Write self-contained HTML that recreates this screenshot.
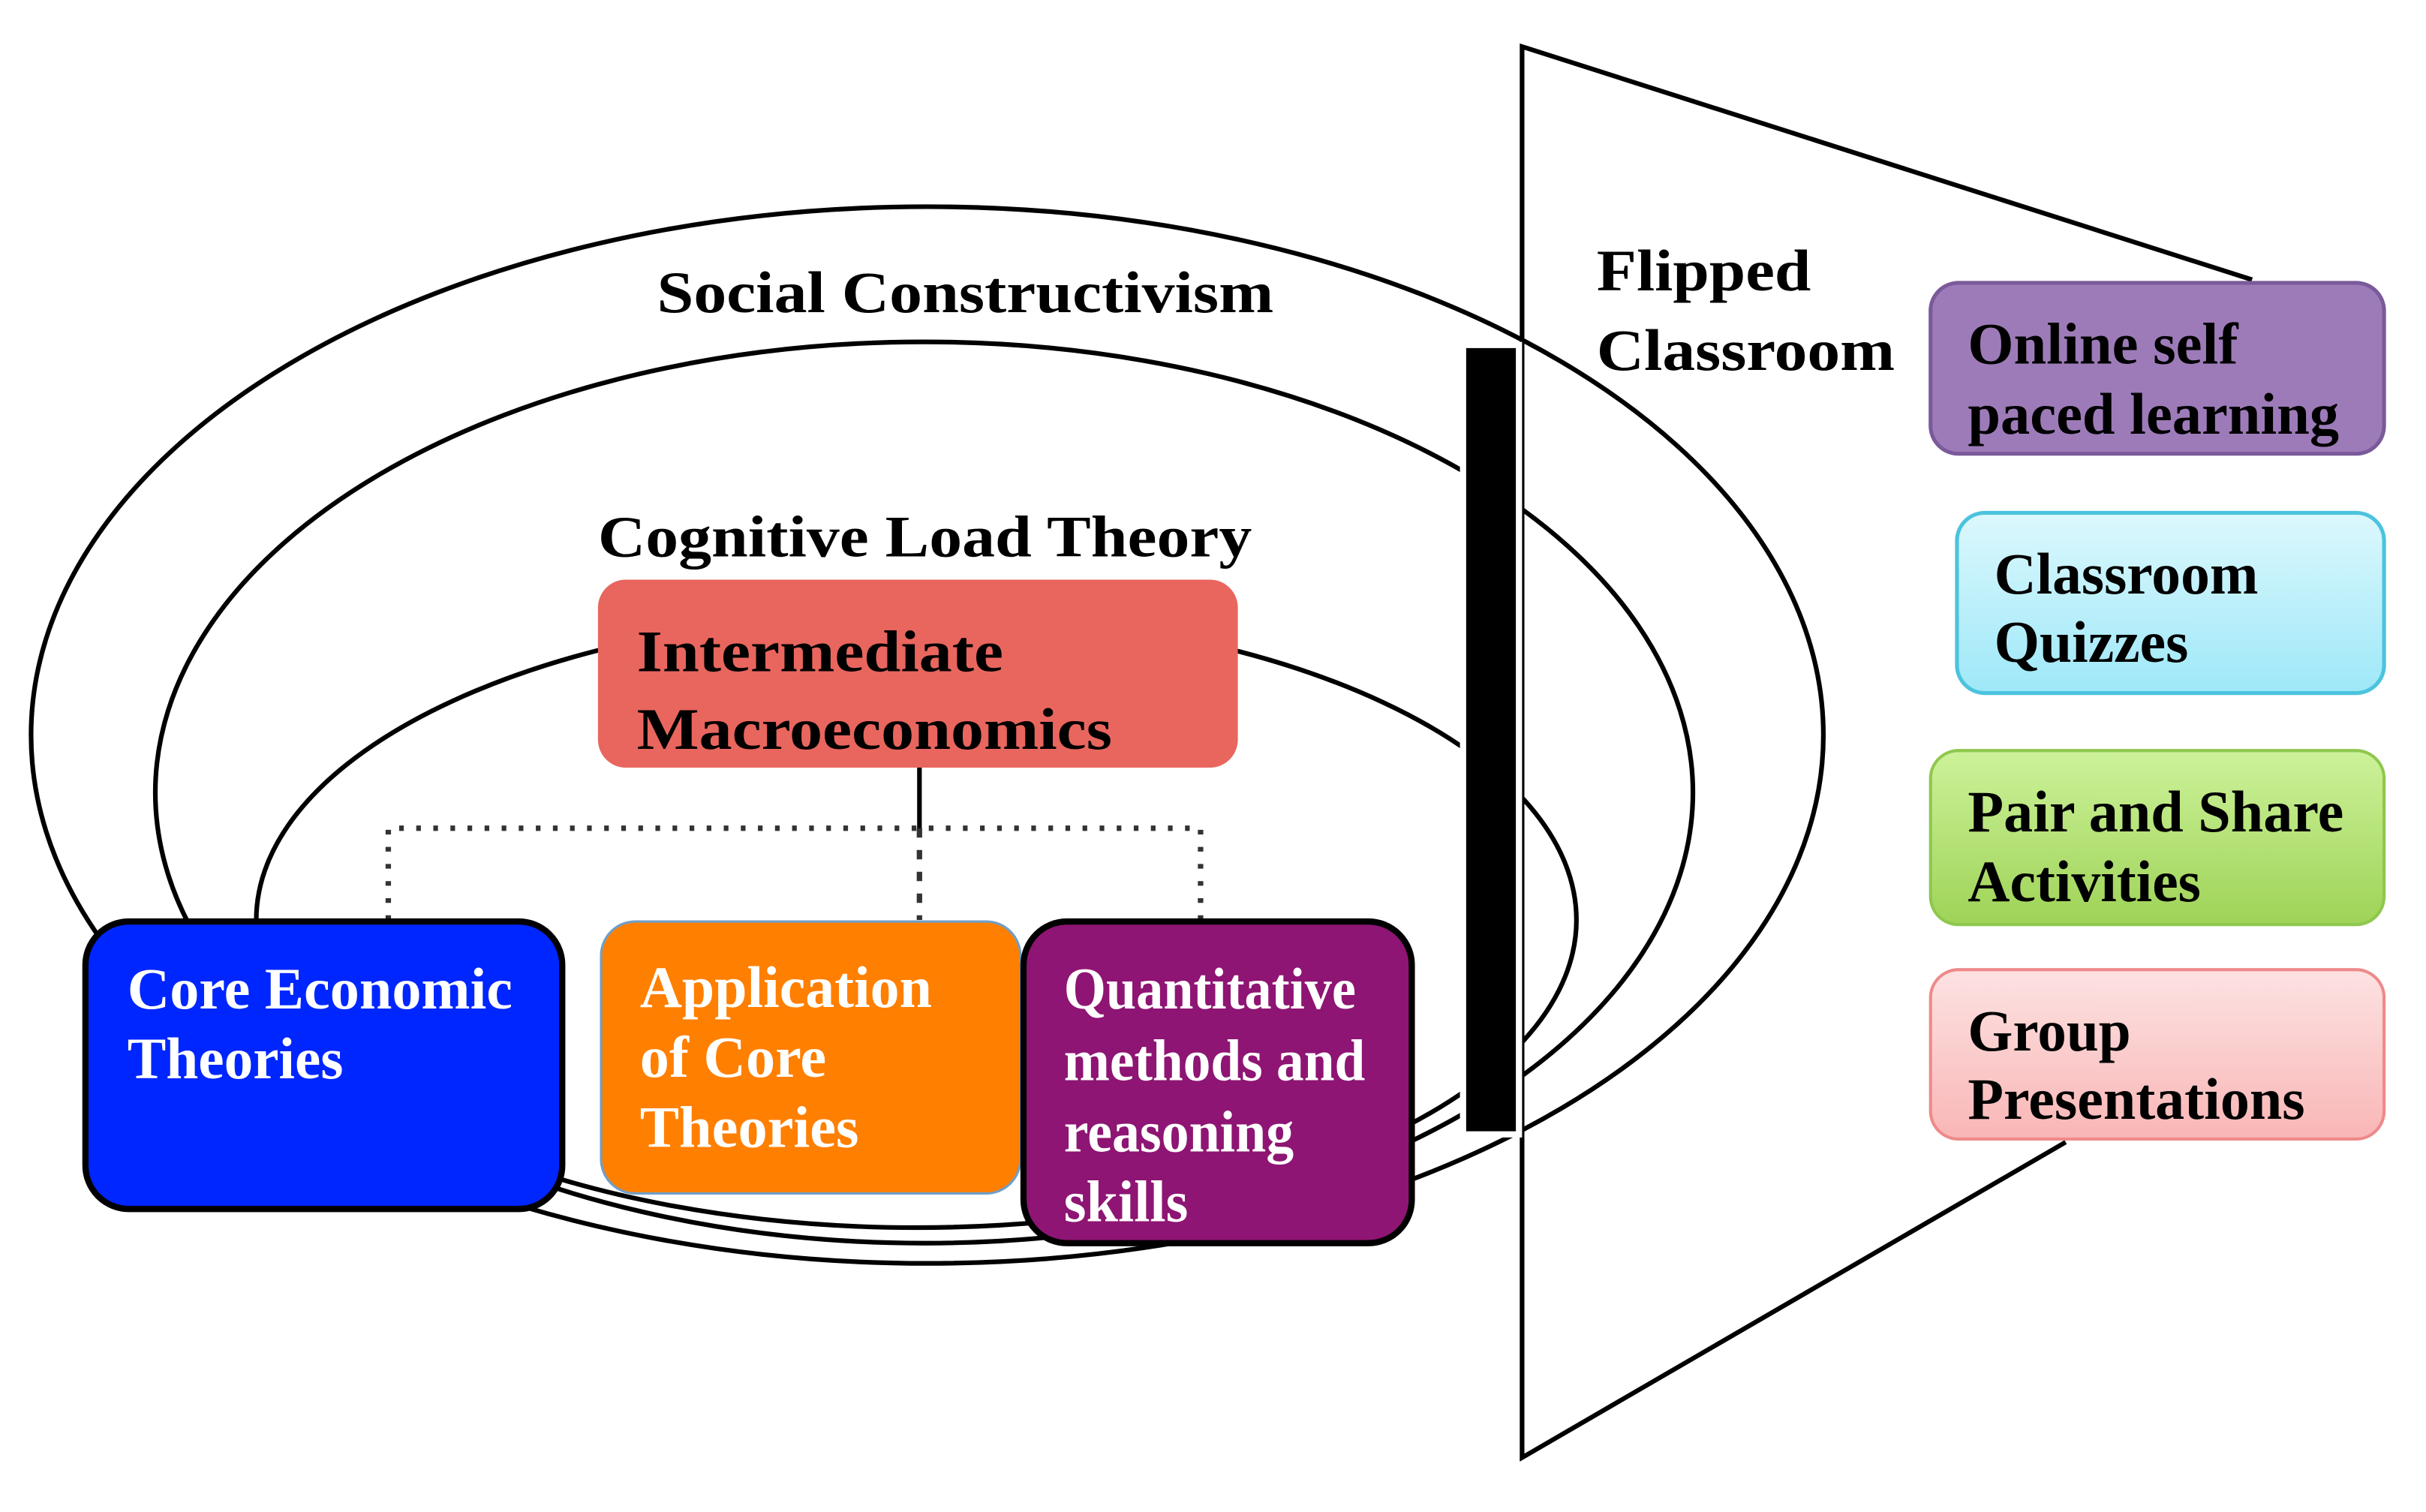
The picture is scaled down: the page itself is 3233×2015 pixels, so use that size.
<!DOCTYPE html>
<html><head><meta charset="utf-8"><style>
html,body{margin:0;padding:0;background:#fff;}
svg{display:block;}
text{font-family:"Liberation Serif",serif;font-weight:bold;font-size:38px;}
</style></head><body>
<svg width="3233" height="2015" viewBox="0 0 1562 973" preserveAspectRatio="none" xmlns="http://www.w3.org/2000/svg">
<defs>
<linearGradient id="gc" x1="0" y1="0" x2="0" y2="1"><stop offset="0" stop-color="#dcf8fd"/><stop offset="1" stop-color="#9ee8f8"/></linearGradient>
<linearGradient id="gg" x1="0" y1="0" x2="0" y2="1"><stop offset="0" stop-color="#cdf29a"/><stop offset="1" stop-color="#9ed357"/></linearGradient>
<linearGradient id="gp" x1="0" y1="0" x2="0" y2="1"><stop offset="0" stop-color="#fde2e2"/><stop offset="1" stop-color="#f9b6b6"/></linearGradient>
</defs>
<!-- trapezoid -->
<polyline points="1450,180 980,30 980,938 1330,735" fill="none" stroke="#000" stroke-width="3"/>
<!-- ellipses -->
<ellipse cx="597" cy="473" rx="577" ry="340" fill="none" stroke="#000" stroke-width="3"/>
<ellipse cx="595" cy="510" rx="495" ry="290" fill="none" stroke="#000" stroke-width="3"/>
<ellipse cx="590" cy="592" rx="425" ry="198" fill="none" stroke="#000" stroke-width="3"/>
<!-- black bar -->
<rect x="940" y="220" width="40" height="512" fill="#fff"/>
<rect x="944" y="224" width="32" height="504" fill="#000"/>
<!-- labels -->
<text x="423" y="201" textLength="397" lengthAdjust="spacingAndGlyphs">Social Constructivism</text>
<text x="385" y="358" textLength="421" lengthAdjust="spacingAndGlyphs">Cognitive Load Theory</text>
<text x="1028" y="187" textLength="138" lengthAdjust="spacingAndGlyphs">Flipped</text>
<text x="1028" y="238" textLength="192" lengthAdjust="spacingAndGlyphs">Classroom</text>
<!-- red box -->
<rect x="385" y="373" width="412" height="121" rx="18" fill="#e8665e"/>
<text x="410" y="432" textLength="236" lengthAdjust="spacingAndGlyphs">Intermediate</text>
<text x="410" y="482" textLength="306" lengthAdjust="spacingAndGlyphs">Macroeconomics</text>
<!-- connectors -->
<line x1="592" y1="494" x2="592" y2="534" stroke="#000" stroke-width="3"/>
<polyline points="250,592 250,533 773,533 773,592" fill="none" stroke="#333" stroke-width="3.5" stroke-dasharray="3,8"/>
<line x1="592" y1="533" x2="592" y2="592" stroke="#333" stroke-width="3.5" stroke-dasharray="6,8"/>
<!-- blue -->
<rect x="55" y="593" width="307" height="185" rx="28" fill="#0026ff" stroke="#000" stroke-width="4"/>
<text fill="#fff" x="82" y="649" font-size="35" textLength="248" lengthAdjust="spacingAndGlyphs">Core Economic</text>
<text fill="#fff" x="82" y="694" font-size="35" textLength="139" lengthAdjust="spacingAndGlyphs">Theories</text>
<!-- orange -->
<rect x="387" y="593" width="270" height="175" rx="22" fill="#ff7f00" stroke="#6f9fc8" stroke-width="1.5"/>
<text fill="#fff" x="412" y="648" font-size="35" textLength="188" lengthAdjust="spacingAndGlyphs">Application</text>
<text fill="#fff" x="412" y="693" font-size="35" textLength="120" lengthAdjust="spacingAndGlyphs">of Core</text>
<text fill="#fff" x="412" y="738" font-size="35" textLength="141" lengthAdjust="spacingAndGlyphs">Theories</text>
<!-- purple -->
<rect x="659" y="593" width="250" height="207" rx="28" fill="#8e1573" stroke="#000" stroke-width="4"/>
<g font-weight="normal">
<text fill="#fff" x="685" y="649" font-size="35" font-weight="normal" textLength="188" lengthAdjust="spacingAndGlyphs">Quantitative</text>
<text fill="#fff" x="685" y="695" font-size="35" font-weight="normal" textLength="194" lengthAdjust="spacingAndGlyphs">methods and</text>
<text fill="#fff" x="685" y="741" font-size="35" font-weight="normal" textLength="148" lengthAdjust="spacingAndGlyphs">reasoning</text>
<text fill="#fff" x="685" y="786" font-size="35" font-weight="normal" textLength="80" lengthAdjust="spacingAndGlyphs">skills</text>
</g>
<!-- right boxes -->
<rect x="1243" y="182" width="292" height="110" rx="18" fill="#9d7bb8" stroke="#7a5a9a" stroke-width="2.5"/>
<text x="1267" y="234" font-size="36" textLength="174" lengthAdjust="spacingAndGlyphs">Online self</text>
<text x="1267" y="279" font-size="36" textLength="239" lengthAdjust="spacingAndGlyphs">paced learning</text>
<rect x="1260" y="330" width="275" height="116" rx="18" fill="url(#gc)" stroke="#4cc3de" stroke-width="2.5"/>
<text x="1284" y="382" font-size="36" textLength="170" lengthAdjust="spacingAndGlyphs">Classroom</text>
<text x="1284" y="426" font-size="36" textLength="125" lengthAdjust="spacingAndGlyphs">Quizzes</text>
<rect x="1243" y="483" width="292" height="112" rx="18" fill="url(#gg)" stroke="#8fc74e" stroke-width="2"/>
<text x="1267" y="535" font-size="36" textLength="242" lengthAdjust="spacingAndGlyphs">Pair and Share</text>
<text x="1267" y="580" font-size="36" textLength="150" lengthAdjust="spacingAndGlyphs">Activities</text>
<rect x="1243" y="624" width="292" height="109" rx="18" fill="url(#gp)" stroke="#ee8a8a" stroke-width="2"/>
<text x="1267" y="676" font-size="36" textLength="105" lengthAdjust="spacingAndGlyphs">Group</text>
<text x="1267" y="720" font-size="36" textLength="217" lengthAdjust="spacingAndGlyphs">Presentations</text>
</svg>
</body></html>
